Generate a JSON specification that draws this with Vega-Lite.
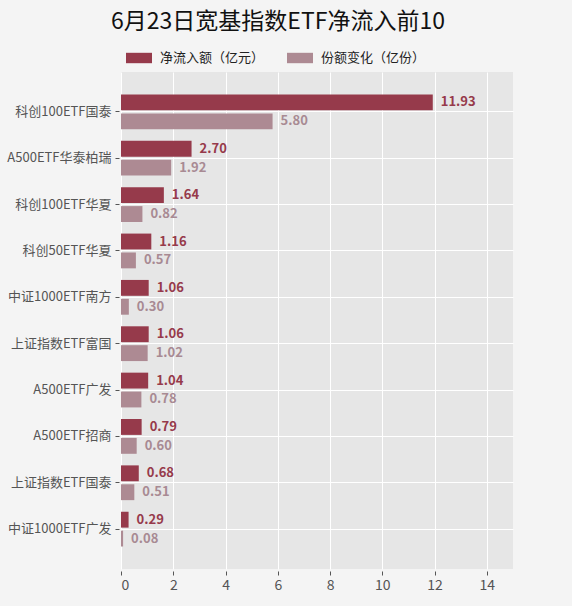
{
  "$schema": "https://vega.github.io/schema/vega-lite/v6.json",
  "autosize": "none",
  "width": 392,
  "height": 497,
  "padding": {"left": 121, "top": 72, "right": 59, "bottom": 37},
  "background": "#f4f4f4",
  "title": {
    "text": "6月23日宽基指数ETF净流入前10",
    "font": "Noto Sans CJK SC",
    "fontSize": 23,
    "fontWeight": "normal",
    "color": "#111111",
    "anchor": "middle",
    "dx": -39,
    "offset": 11
  },
  "config": {
    "font": "Noto Sans CJK SC",
    "view": {"fill": "#e6e6e6", "stroke": null},
    "axis": {
      "domain": false,
      "grid": true,
      "gridColor": "#ffffff",
      "gridWidth": 1,
      "tickColor": "#555555",
      "tickSize": 4,
      "labelColor": "#555555",
      "labelFont": "Noto Sans CJK SC",
      "labelFontSize": 13,
      "title": null
    }
  },
  "data": {
    "values": [
      {"name": "科创100ETF国泰", "series": "净流入额（亿元）", "value": 11.93},
      {"name": "科创100ETF国泰", "series": "份额变化（亿份）", "value": 5.80},
      {"name": "A500ETF华泰柏瑞", "series": "净流入额（亿元）", "value": 2.70},
      {"name": "A500ETF华泰柏瑞", "series": "份额变化（亿份）", "value": 1.92},
      {"name": "科创100ETF华夏", "series": "净流入额（亿元）", "value": 1.64},
      {"name": "科创100ETF华夏", "series": "份额变化（亿份）", "value": 0.82},
      {"name": "科创50ETF华夏", "series": "净流入额（亿元）", "value": 1.16},
      {"name": "科创50ETF华夏", "series": "份额变化（亿份）", "value": 0.57},
      {"name": "中证1000ETF南方", "series": "净流入额（亿元）", "value": 1.06},
      {"name": "中证1000ETF南方", "series": "份额变化（亿份）", "value": 0.30},
      {"name": "上证指数ETF富国", "series": "净流入额（亿元）", "value": 1.06},
      {"name": "上证指数ETF富国", "series": "份额变化（亿份）", "value": 1.02},
      {"name": "A500ETF广发", "series": "净流入额（亿元）", "value": 1.04},
      {"name": "A500ETF广发", "series": "份额变化（亿份）", "value": 0.78},
      {"name": "A500ETF招商", "series": "净流入额（亿元）", "value": 0.79},
      {"name": "A500ETF招商", "series": "份额变化（亿份）", "value": 0.60},
      {"name": "上证指数ETF国泰", "series": "净流入额（亿元）", "value": 0.68},
      {"name": "上证指数ETF国泰", "series": "份额变化（亿份）", "value": 0.51},
      {"name": "中证1000ETF广发", "series": "净流入额（亿元）", "value": 0.29},
      {"name": "中证1000ETF广发", "series": "份额变化（亿份）", "value": 0.08}
    ]
  },
  "encoding": {
    "y": {
      "field": "name",
      "type": "nominal",
      "sort": null,
      "scale": {"paddingInner": 0.25, "paddingOuter": 0.485},
      "axis": {"offset": 2, "labelPadding": 4, "labelLimit": 200}
    },
    "yOffset": {
      "field": "series",
      "type": "nominal",
      "sort": ["净流入额（亿元）", "份额变化（亿份）"],
      "scale": {"paddingInner": 0.16}
    },
    "x": {
      "field": "value",
      "type": "quantitative",
      "scale": {"domain": [0, 15], "nice": false},
      "axis": {"values": [0, 2, 4, 6, 8, 10, 12, 14], "offset": 2, "labelPadding": 3, "labelFontSize": 14}
    }
  },
  "layer": [
    {
      "mark": {"type": "bar"},
      "encoding": {
        "color": {
          "field": "series",
          "type": "nominal",
          "sort": ["净流入额（亿元）", "份额变化（亿份）"],
          "scale": {"range": ["#963a4b", "#ad8a93"]},
          "legend": {
            "title": null,
            "orient": "none",
            "direction": "horizontal",
            "legendX": 5,
            "legendY": -27,
            "symbolType": "M-1,-0.4H1V0.4H-1Z",
            "symbolSize": 676,
            "symbolStrokeWidth": 0,
            "labelFontSize": 13,
            "labelColor": "#222222",
            "labelOffset": 8,
            "columnPadding": 22
          }
        }
      }
    },
    {
      "mark": {"type": "text", "align": "left", "baseline": "middle", "dx": 8, "fontWeight": "bold", "fontSize": 13},
      "encoding": {
        "text": {"field": "value", "type": "quantitative", "format": ".2f"},
        "color": {
          "field": "series",
          "type": "nominal",
          "sort": ["净流入额（亿元）", "份额变化（亿份）"],
          "scale": {"range": ["#963a4b", "#a88a93"]},
          "legend": null
        }
      }
    }
  ],
  "resolve": {"scale": {"color": "independent"}}
}
